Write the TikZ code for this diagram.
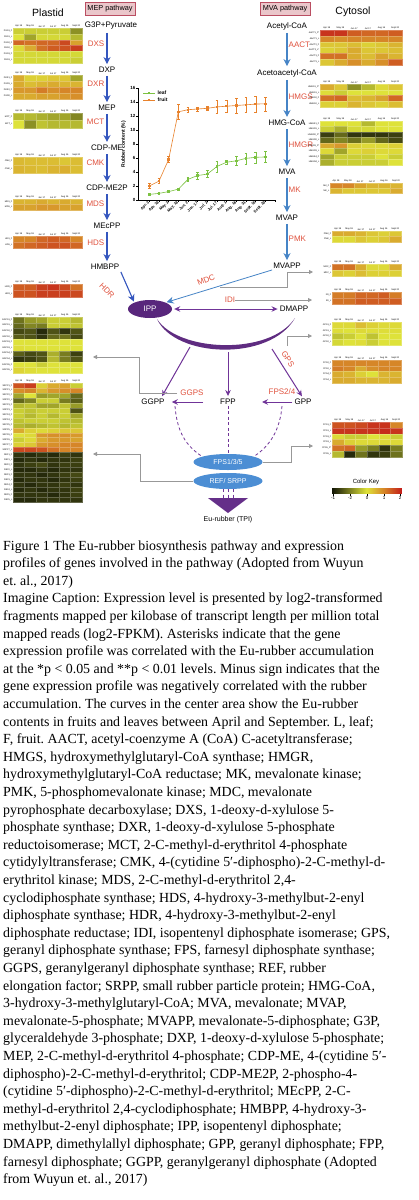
\documentclass[tikz,border=0pt]{standalone}
\usepackage{fontspec}
\setmainfont{Liberation Serif}
\setsansfont{Liberation Sans}
\usetikzlibrary{calc}
\usetikzlibrary{arrows.meta}
\usetikzlibrary{shapes.geometric}
\frenchspacing

\definecolor{mepblue}{RGB}{52,86,190}
\definecolor{mvablue}{RGB}{70,132,198}
\definecolor{enzred}{RGB}{224,82,62}
\definecolor{purp}{RGB}{112,52,152}
\definecolor{ippfill}{RGB}{88,38,124}
\definecolor{ellblue}{RGB}{76,142,212}
\definecolor{grayline}{RGB}{152,152,152}
\definecolor{boxfill}{RGB}{234,198,202}
\definecolor{boxline}{RGB}{186,78,98}
\definecolor{leafc}{RGB}{124,194,66}
\definecolor{fruitc}{RGB}{232,130,44}
\definecolor{hmK}{RGB}{18,22,6}
\definecolor{hmY}{RGB}{222,226,58}
\definecolor{hmO}{RGB}{214,134,40}
\definecolor{hmR}{RGB}{196,32,26}

\newcommand\hmcol[1]{%
  \pgfmathsetmacro\hmv{#1}%
  \ifdim\hmv pt<0pt
    \pgfmathsetmacro\hmp{(\hmv+1)*100}\colorlet{hc}{hmY!\hmp!hmK}%
  \else\ifdim\hmv pt<1pt
    \pgfmathsetmacro\hmp{\hmv*100}\colorlet{hc}{hmO!\hmp!hmY}%
  \else
    \pgfmathsetmacro\hmp{(\hmv-1)*100}\colorlet{hc}{hmR!\hmp!hmO}%
  \fi\fi}

\newcommand\hmap[6]{%
  \foreach \m [count=\j] in {Apr 18,May 18,Jun 17,Jul 17,Aug 16,Sept 20}
    \node[hmhead] (#1-h\j) at ({#2+(\j-.5)*#4/6},#3) {\m};
  \foreach \lab/\va/\vb/\vc/\vd/\ve/\vf [count=\k] in {#6} {
    \node[hmrow] (#1-r\k) at (#2,{#3+(\k-.5)*#5}) {\lab};
    \foreach \cv [count=\j] in {\va,\vb,\vc,\vd,\ve,\vf} {
      \hmcol{\cv}
      \filldraw[hmcell] ({#2+(\j-1)*#4/6},{#3+(\k-1)*#5}) rectangle ++({#4/6},#5);
    }
  }}

\begin{document}
\begin{tikzpicture}[x=1pt, y=-1pt,
  met/.style={font=\sffamily\fontsize{8}{9}\selectfont, inner sep=1pt},
  enz/.style={font=\sffamily\fontsize{8}{9}\selectfont, text=enzred, inner sep=0pt},
  meparr/.style={draw=mepblue, line width=1.1pt, -{Stealth[length=7pt,width=7pt]}, shorten <=2pt, shorten >=2pt},
  mvaarr/.style={meparr, draw=mvablue},
  pur/.style={draw=purp, line width=1pt, arrows={-Stealth[length=6pt,width=5.5pt]}},
  gry/.style={draw=grayline, line width=.8pt, arrows={-Triangle[length=4pt,width=4pt]}},
  dsh/.style={draw=purp, line width=.8pt, dash pattern=on 3pt off 2.5pt},
  pathbox/.style={draw=boxline, fill=boxfill, line width=.8pt, font=\sffamily\fontsize{7.3}{8}\selectfont, minimum width=50pt, minimum height=13pt, inner sep=0pt},
  region/.style={font=\sffamily\fontsize{10.5}{12}\selectfont},
  blob/.style={ellipse, fill=ellblue, text=white, font=\sffamily\fontsize{7}{8}\selectfont, minimum width=69pt, minimum height=16pt, inner sep=0pt},
  hmhead/.style={font=\sffamily\fontsize{2.3}{2.5}\selectfont, anchor=south, inner sep=.4pt},
  hmrow/.style={font=\sffamily\fontsize{2.2}{2.5}\selectfont, anchor=east, inner sep=.5pt},
  hmcell/.style={fill=hc, draw=hc!75!white, line width=.2pt},
  axis/.style={draw=black, line width=.4pt},
  ticklab/.style={font=\sffamily\bfseries\fontsize{4.5}{5}\selectfont, inner sep=.5pt},
  xlab/.style={font=\sffamily\bfseries\fontsize{3.8}{4}\selectfont, inner sep=.5pt, anchor=east, rotate=45},
  keylab/.style={font=\sffamily\fontsize{5.5}{6}\selectfont, inner sep=.5pt},
  captext/.style={font=\fontsize{13.9}{17.6}\selectfont, align=left, inner sep=0pt, anchor=north west}]

\path[use as bounding box, fill=white] (0,0) rectangle (419,1200);

\node[region] (plastid) at (48,13) {Plastid};
\node[region] (cytosol) at (353,12) {Cytosol};
\node[pathbox] (mepbox) at (110,8.5) {MEP pathway};
\node[pathbox] (mvabox) at (285,8.5) {MVA pathway};

\node[met] (g3p) at (111,26) {G3P+Pyruvate};
\node[met] (dxp) at (107,70) {DXP};
\node[met] (mep) at (107,108) {MEP};
\node[met] (cdpme) at (107,148) {CDP-ME};
\node[met] (cdpme2p) at (107,188) {CDP-ME2P};
\node[met] (mecpp) at (107,226) {MEcPP};
\node[met] (hmbpp) at (105,267) {HMBPP};
\foreach \a/\b in {g3p/dxp, dxp/mep, mep/cdpme, cdpme/cdpme2p, cdpme2p/mecpp, mecpp/hmbpp}
  \draw[meparr] (\a.south -| dxp) -- (\b.north -| dxp);
\foreach \n/\t/\y in {dxs/DXS/44, dxr/DXR/84, mct/MCT/122, cmk/CMK/163, mds/MDS/204, hds/HDS/243}
  \node[enz, anchor=east] (\n) at (104.5,\y) {\t};

\node[met] (acetyl) at (287,26) {Acetyl-CoA};
\node[met] (acetoacetyl) at (287,73) {Acetoacetyl-CoA};
\node[met] (hmgcoa) at (287,123) {HMG-CoA};
\node[met] (mva) at (287,172) {MVA};
\node[met] (mvap) at (287,218) {MVAP};
\node[met] (mvapp) at (287,266) {MVAPP};
\foreach \a/\b in {acetyl/acetoacetyl, acetoacetyl/hmgcoa, hmgcoa/mva, mva/mvap, mvap/mvapp}
  \draw[mvaarr] (\a) -- (\b);
\foreach \n/\t/\y in {aact/AACT/45, hmgs/HMGS/97, hmgr/HMGR/145, mk/MK/190, pmk/PMK/239}
  \node[enz, anchor=west] (\n) at (288.5,\y) {\t};

\node[met, ellipse, fill=ippfill, text=white, minimum width=44pt, minimum height=18pt, inner sep=0pt] (ipp) at (150,309) {IPP};
\node[met] (dmapp) at (294,309) {DMAPP};
\draw[meparr, shorten <=1pt, shorten >=1pt] (hmbpp.south east) -- (ipp.north west);
\node[enz, rotate=-45] (hdr) at (107,291) {HDR};
\draw[mvaarr, line width=.8pt, shorten <=0pt, shorten >=1pt] (mvapp.south west) -- (ipp.north east);
\node[enz, rotate=22] (mdc) at (206,280) {MDC};
\draw[pur, arrows={Stealth[length=6pt,width=5.5pt]-Stealth[length=6pt,width=5.5pt]}, shorten <=2pt, shorten >=1pt] (ipp.east) -- (dmapp.west);
\node[enz] (idi) at (230,300) {IDI};

\fill[purp!85!black] (157,319) .. controls (175,358) and (270,362) .. (295,318) .. controls (270,356) and (178,352) .. cycle;
\coordinate (arcl) at (190,347);
\coordinate (arcm) at (228,352);
\coordinate (arcr) at (272,349);

\node[met] (ggpp) at (153,402) {GGPP};
\node[met] (fpp) at (228,402) {FPP};
\node[met] (gpp) at (303,402) {GPP};
\draw[pur, shorten >=2pt] (arcl) -- ([xshift=8pt]ggpp.north);
\draw[pur, shorten >=2pt] (arcm) -- (fpp.north);
\draw[pur, shorten >=2pt] (arcr) -- (gpp.north);
\node[enz, rotate=-57] (gps) at (288,359) {GPS};
\node[enz] (ggps) at (192,393) {GGPS};
\node[enz] (fpsb) at (282,392) {FPS2/4};
\draw[pur, shorten >=6pt] ([xshift=-16pt]fpp.west) -- (ggpp.east);
\draw[pur, shorten <=1pt] (gpp.west) -- ([xshift=25pt]fpp.east);

\node[blob] (fps) at (228,462) {FPS1/3/5};
\node[blob] (ref) at (228,481) {REF/ SRPP};
\draw[dsh] ([xshift=22pt]ggpp.south) .. controls (177,432) and (186,446) .. (fps.168);
\draw[dsh] (fpp.south) -- (fps.north);
\draw[dsh] ([xshift=-21pt]gpp.south) .. controls (280,430) and (270,446) .. (fps.12);
\fill[purp!90!black] (208,498) -- (248,498) -- (228,513) -- cycle;
\coordinate (tpitop) at (228,498);
\foreach \dx in {-5,0,5}
  \draw[dsh] ([xshift=\dx pt]ref.south) -- ([xshift=\dx pt]tpitop);
\node[met, font=\sffamily\fontsize{7}{8}\selectfont] (eur) at (228,520) {Eu-rubber (TPI)};

\coordinate (mdcg) at (220,287);
\coordinate (gpsg) at (287,346);
\coordinate (tomdc) at (313,272);
\coordinate (toidi) at (312,300);
\coordinate (togps) at (312,336);
\coordinate (tofps) at (313,446);
\coordinate (toggps) at (93,357);
\coordinate (toref) at (93,454);
\draw[gry] (mdcg) -- ++(67,0) |- (tomdc);
\draw[gry] (idi.east) -- (toidi);
\draw[gry] (gpsg) |- (togps);
\draw[gry] (fps.east) -- ++(29,0) |- (tofps);
\draw[gry] ([xshift=-3pt]ggps.west) -- ++(-38,0) |- (toggps);
\draw[gry] (ref.west) -- ++(-53,0) |- (toref);

\begin{scope}[shift={(138,200)}, x=9.67pt, y=7pt]
  \draw[axis] (0,16) -- (0,0) -- (14.2,0);
  \foreach \t in {0,2,...,16}
    \draw[axis] (0,\t) -- ++(-1.8pt,0) node[left, ticklab] (yt\t) {\t};
  \foreach \d [count=\i] in {Apr. 3,Apr. 18,May. 3,May. 18,Jun. 2,Jun. 17,Jul. 2,Jul. 17,Aug. 1,Aug. 16,Aug. 31,Sept. 15,Sept. 30}
    \draw[axis] (\i+.17,0) -- ++(0,-1.8pt) node[xlab] (xt\i) {\d};
  \draw[axis] (14.17,0) -- ++(0,-1.8pt);
  \node[ticklab, font=\sffamily\bfseries\fontsize{5}{6}\selectfont, rotate=90] (ylab) at (-1.5,8) {Rubber content (\%)};
  \foreach \cv/\e [count=\i, remember=\cv as \pv (initially 2)] in {2/.35,2.7/.35,5.8/.4,12.6/1.1,12.9/.4,13/.3,13.1/.25,13.3/.9,13.4/.9,13.5/1.1,13.6/1.1,13.7/1.1,13.75/1} {
    \ifnum\i>1 \draw[fruitc, line width=.6pt] ({\i-.83},\pv) -- ({\i+.17},\cv); \fi
    \draw[fruitc, line width=.35pt] ({\i+.17},{\cv-\e}) -- ({\i+.17},{\cv+\e})
      ([xshift=-1.3pt]{\i+.17},{\cv-\e}) -- ([xshift=1.3pt]{\i+.17},{\cv-\e})
      ([xshift=-1.3pt]{\i+.17},{\cv+\e}) -- ([xshift=1.3pt]{\i+.17},{\cv+\e});
    \fill[fruitc] ({\i+.17},\cv) +(-1.2pt,-1.2pt) rectangle +(1.2pt,1.2pt);
  }
  \foreach \cv/\e [count=\i, remember=\cv as \pv (initially .8)] in {.8/.1,.95/.1,1.2/.1,1.55/.1,2.95/.25,3.5/.5,3.7/.5,4.8/.8,5.4/.25,5.6/.6,5.95/.8,6.1/.8,6.15/.8} {
    \ifnum\i>1 \draw[leafc, line width=.6pt] ({\i-.83},\pv) -- ({\i+.17},\cv); \fi
    \draw[leafc, line width=.35pt] ({\i+.17},{\cv-\e}) -- ({\i+.17},{\cv+\e})
      ([xshift=-1.3pt]{\i+.17},{\cv-\e}) -- ([xshift=1.3pt]{\i+.17},{\cv-\e})
      ([xshift=-1.3pt]{\i+.17},{\cv+\e}) -- ([xshift=1.3pt]{\i+.17},{\cv+\e});
    \fill[leafc] ({\i+.17},\cv) +(-1.2pt,-1.2pt) rectangle +(1.2pt,1.2pt);
  }
\end{scope}
\draw[leafc, line width=.6pt] (143,93) -- (155,93);
\fill[leafc] (147.8,91.8) rectangle ++(2.4,2.4);
\node[ticklab, anchor=west, font=\sffamily\bfseries\fontsize{5}{6}\selectfont] (lgleaf) at (157,93) {leaf};
\draw[fruitc, line width=.6pt] (143,100) -- (155,100);
\fill[fruitc] (147.8,98.8) rectangle ++(2.4,2.4);
\node[ticklab, anchor=west, font=\sffamily\bfseries\fontsize{5}{6}\selectfont] (lgfruit) at (157,100) {fruit};

\hmap{hdxs}{13}{28}{69}{5.83}{DXS1\_F/-.1/-.1/-.1/-.1/-.1/-.4, DXS1\_L/0/-.3/-.05/-.05/-.05/-.2, DXS2\_F/1.3/1.2/1.3/1.3/1.6/.7, DXS2\_L/.1/.6/1.2/1.4/1.5/1.7, DXS3\_F/-.05/-.05/-.05/-.05/-.05/-.05, DXS3\_L/-.05/-.05/-.05/-.05/-.05/-.1}
\hmap{hdxr}{13}{75}{69}{6}{DXR1\_F/.6/.2/.2/.3/.3/-.3, DXR1\_L/.6/.4/.5/.6/.5/.5, DXR2\_F/.8/.8/1.1/.9/1/1, DXR2\_L/.6/.6/.7/.7/.8/.9}
\hmap{hmct}{13}{113}{69}{7.3}{MCT\_F/-.2/-.2/-.25/-.3/-.3/-.45, MCT\_L/0/-.4/-.15/-.2/-.2/-.2}
\hmap{hcmk}{13}{157}{69}{8}{CMK\_F/.45/.4/.4/.4/.3/.4, CMK\_L/.5/.45/.4/.5/.55/.4}
\hmap{hmds}{13}{199}{69}{5.5}{MDS\_F/.5/.5/.6/.5/.6/.5, MDS\_L/.7/.7/.8/.8/.7/.7}
\hmap{hhds}{13}{236}{69}{6}{HDS\_F/1/1/1.3/1.4/1.3/1, HDS\_L/1.2/1.3/1.4/1.5/1.5/1.3}
\hmap{hhdr}{13}{284}{69}{6.5}{HDR\_F/1.4/1.4/1.7/1.8/1.6/1.2, HDR\_L/1.5/1.5/1.7/1.7/1.7/1.6}
\hmap{hggps}{13}{317}{69}{5.6}{GGPS1\_F/-.55/-.35/-.3/-.1/-.1/-.2, GGPS1\_L/-.6/-.45/-.5/-.1/-.1/-.15, GGPS2\_F/-.75/-.7/-.9/-.7/-.85/-.7, GGPS2\_L/-.65/-.7/-.85/-.6/-.55/-.75, GGPS3\_F/0/0/0/0/0/0, GGPS3\_L/.05/0/0/0/0/0, GGPS4\_F/-.65/-.75/-.7/-.25/-.5/-.8, GGPS4\_L/-.85/-.8/-.7/-.2/-.5/-.7, GGPS5\_F/0/0/-.1/0/0/0, GGPS5\_L/.15/.05/0/0/0/0}
\hmap{hsrpp}{13}{383}{69}{4.96}{SRPP1\_F/1.5/1.7/.2/.6/.7/-.1, SRPP1\_L/.9/1/.5/.8/.9/1, SRPP2\_F/-.3/0/-.35/-.3/-.3/-.6, SRPP2\_L/-.6/-.45/-.1/-.1/-.5/-.65, SRPP3\_F/-.2/-.15/-.3/-.3/-.15/-.35, SRPP3\_L/-.1/-.15/-.1/-.1/-.1/-.7, SRPP4\_F/-.1/-.2/-.1/-.2/-.1/-.3, SRPP4\_L/-.15/-.1/-.1/-.1/-.15/-.2, SRPP5\_F/-.2/-.25/-.2/-.15/-.2/-.15, SRPP5\_L/.6/.2/.1/.2/.3/.3, SRPP6\_F/0/.1/.8/.9/.9/.8, SRPP6\_L/-.1/.1/.6/.8/.8/.7, SRPP7\_F/.2/.3/.8/.9/1/1, SRPP7\_L/1.6/1.6/1.5/1.2/1/1, REF1\_F/-.85/-.9/-.85/-.9/-.8/-.85, REF1\_L/-.9/-.85/-.9/-.85/-.85/-.8, REF2\_F/-.85/-.8/-.75/-.85/-.8/-.8, REF2\_L/-.9/-.9/-.85/-.9/-.85/-.85, REF3\_F/-.85/-.85/-.9/-.85/-.8/-.75, REF3\_L/-.9/-.85/-.85/-.9/-.85/-.8, REF4\_F/-.85/-.9/-.85/-.85/-.8/-.85, REF4\_L/-.9/-.85/-.9/-.85/-.85/-.8, REF5\_F/-.85/-.85/-.85/-.9/-.85/-.8, REF5\_L/-.9/-.9/-.85/-.85/-.85/-.85}

\hmap{haact}{320}{30}{82}{5.83}{AACT1\_F*/1.8/1.8/1.4/1.3/1.3/1.4, AACT1\_L/1/.9/1/1/1/1, AACT2\_F/.3/.3/.4/.2/.3/.5, AACT2\_L*/.2/.3/.6/.3/.3/.4, AACT3\_F/1.2/1.2/.6/.4/.7/.5, AACT3\_L/.3/.6/.9/.6/.9/1.4}
\hmap{hhmgs}{320}{84}{82}{5.75}{HMGS1\_F*/.6/.3/-.4/-.2/.1/.3, HMGS1\_L/.05/-.1/0/0/0/0, HMGS2\_F/1.2/1.3/.4/.5/.7/1.3, HMGS2\_L/.2/.2/.5/.3/.2/.4}
\hmap{hhmgr}{320}{121}{82}{5.5}{HMGR1\_F/0/0/0/-.2/0/0, HMGR1\_L/-.1/-.25/-.05/-.05/0/0, HMGR2\_F*/-.8/-.6/-.85/-.85/-.85/-.8, HMGR2\_L/-.6/-.45/-.55/-.35/-.6/-.75, HMGR3\_F*/.6/.8/.2/.1/.1/.2, HMGR3\_L/.1/-.3/.1/.2/.1/.1, HMGR4\_F/-.3/-.1/-.1/-.1/0/-.1, HMGR4\_L/-.25/-.1/-.1/-.1/-.1/0}
\hmap{hmk}{330}{183}{72}{5}{MK\_F/1/1/.7/.5/.5/.5, MK\_L/.5/.3/.3/.3/.3/.6}
\hmap{hpmk}{332}{231}{69}{5.5}{PMK\_F/.6/.6/.5/.3/.2/.3, PMK\_L/.1/.1/.3/.2/.3/.6}
\hmap{hmdc}{332}{264}{69}{6}{MDC\_F/1.2/1.2/.6/.1/.1/.6, MDC\_L/.3/.2/.4/.2/.2/.2}
\hmap{hidi}{332}{292}{69}{6}{IDI\_F/1.1/1.1/1.3/1.3/1.4/1.1, IDI\_L/1.2/1.2/1.4/1.4/1.4/1.4}
\hmap{hgps}{332}{322}{69}{5.75}{GPS1\_F/.1/.1/.4/.2/.1/.1, GPS1\_L/.05/0/.1/.05/.05/.05, GPS2\_F/-.15/-.1/0/-.15/0/0, GPS2\_L/-.05/0/.05/-.1/0/0}
\hmap{hfpsb}{332}{360}{69}{5.75}{FPS2\_F/1/1/1/1/1/1, FPS2\_L/1.1/1/.6/.9/1/1, FPS4\_F/.6/.5/.2/0/.5/.5, FPS4\_L/.6/.6/.5/.5/.5/.6}
\hmap{hfpsa}{332}{422}{70}{5.83}{FPS1\_F/1.5/1.5/1.6/1.8/1.8/1, FPS1\_L/1.8/1.8/1.8/1.8/1.9/1.8, FPS3\_F/.1/-.1/-.1/0/.1/-.1, FPS3\_L/.6/.2/.1/.1/.1/.1, FPS5\_F*/1.2/1.3/-.35/-.5/-.85/-.5, FPS5\_L/-.2/-.9/-.55/-.85/-.8/-.55}

\node[keylab, font=\sffamily\fontsize{6}{7}\selectfont] (ckey) at (366,482) {Color Key};
\foreach \i in {0,...,69} {
  \pgfmathsetmacro\kv{\i<35 ? (\i/69-.5)*2 : (\i/69-.5)*4}
  \hmcol{\kv}
  \fill[hc] (332+\i,487.5) rectangle ++(1.05,6.5);
}
\foreach \tx/\tl [count=\c] in {333/-1,350/-2,367/0,384/1,400/2}
  \draw[line width=.3pt] (\tx,494) -- ++(0,2) node[below, keylab, font=\sffamily\fontsize{4.5}{5}\selectfont] (kt\c) {\tl};

\node[captext] (caption) at (3,540.3) {Figure 1 The Eu-rubber biosynthesis pathway and expression\\
profiles of genes involved in the pathway (Adopted from Wuyun\\
et. al., 2017)\\
Imagine Caption: Expression level is presented by log2-transformed\\
fragments mapped per kilobase of transcript length per million total\\
mapped reads (log2-FPKM). Asterisks indicate that the gene\\
expression profile was correlated with the Eu-rubber accumulation\\
at the *p < 0.05 and **p < 0.01 levels. Minus sign indicates that the\\
gene expression profile was negatively correlated with the rubber\\
accumulation. The curves in the center area show the Eu-rubber\\
contents in fruits and leaves between April and September. L, leaf;\\
F, fruit. AACT, acetyl-coenzyme A (CoA) C-acetyltransferase;\\
HMGS, hydroxymethylglutaryl-CoA synthase; HMGR,\\
hydroxymethylglutaryl-CoA reductase; MK, mevalonate kinase;\\
PMK, 5-phosphomevalonate kinase; MDC, mevalonate\\
pyrophosphate decarboxylase; DXS, 1-deoxy-d-xylulose 5-\\
phosphate synthase; DXR, 1-deoxy-d-xylulose 5-phosphate\\
reductoisomerase; MCT, 2-C-methyl-d-erythritol 4-phosphate\\
cytidylyltransferase; CMK, 4-(cytidine 5′-diphospho)-2-C-methyl-d-\\
erythritol kinase; MDS, 2-C-methyl-d-erythritol 2,4-\\
cyclodiphosphate synthase; HDS, 4-hydroxy-3-methylbut-2-enyl\\
diphosphate synthase; HDR, 4-hydroxy-3-methylbut-2-enyl\\
diphosphate reductase; IDI, isopentenyl diphosphate isomerase; GPS,\\
geranyl diphosphate synthase; FPS, farnesyl diphosphate synthase;\\
GGPS, geranylgeranyl diphosphate synthase; REF, rubber\\
elongation factor; SRPP, small rubber particle protein; HMG-CoA,\\
3-hydroxy-3-methylglutaryl-CoA; MVA, mevalonate; MVAP,\\
mevalonate-5-phosphate; MVAPP, mevalonate-5-diphosphate; G3P,\\
glyceraldehyde 3-phosphate; DXP, 1-deoxy-d-xylulose 5-phosphate;\\
MEP, 2-C-methyl-d-erythritol 4-phosphate; CDP-ME, 4-(cytidine 5′-\\
diphospho)-2-C-methyl-d-erythritol; CDP-ME2P, 2-phospho-4-\\
(cytidine 5′-diphospho)-2-C-methyl-d-erythritol; MEcPP, 2-C-\\
methyl-d-erythritol 2,4-cyclodiphosphate; HMBPP, 4-hydroxy-3-\\
methylbut-2-enyl diphosphate; IPP, isopentenyl diphosphate;\\
DMAPP, dimethylallyl diphosphate; GPP, geranyl diphosphate; FPP,\\
farnesyl diphosphate; GGPP, geranylgeranyl diphosphate (Adopted\\
from Wuyun et. al., 2017)};

\end{tikzpicture}
\end{document}
